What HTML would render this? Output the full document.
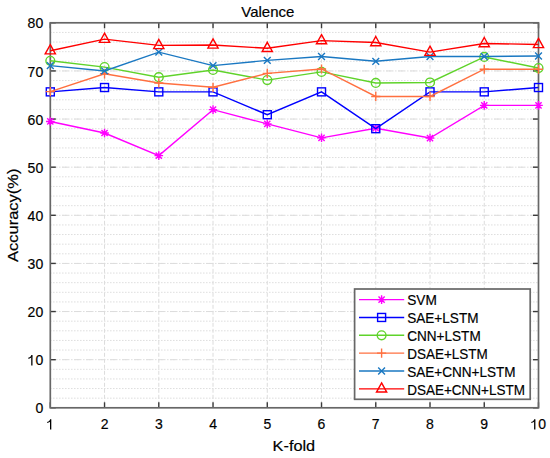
<!DOCTYPE html>
<html><head><meta charset="utf-8"><style>
html,body{margin:0;padding:0;background:#fff;}
svg{display:block;}
text{font-family:"Liberation Sans",sans-serif;fill:#000;stroke:#000;stroke-width:0.18px;}
</style></head><body>
<svg width="550" height="458" viewBox="0 0 550 458">
<rect width="550" height="458" fill="#fff"/>
<line x1="50.3" y1="398.18" x2="538.5" y2="398.18" stroke="#d0d0d0" stroke-width="1" stroke-dasharray="1.1 1.9"/>
<line x1="50.3" y1="388.55" x2="538.5" y2="388.55" stroke="#d0d0d0" stroke-width="1" stroke-dasharray="1.1 1.9"/>
<line x1="50.3" y1="378.93" x2="538.5" y2="378.93" stroke="#d0d0d0" stroke-width="1" stroke-dasharray="1.1 1.9"/>
<line x1="50.3" y1="369.30" x2="538.5" y2="369.30" stroke="#d0d0d0" stroke-width="1" stroke-dasharray="1.1 1.9"/>
<line x1="50.3" y1="359.68" x2="538.5" y2="359.68" stroke="#d0d0d0" stroke-width="1" stroke-dasharray="1.1 1.9"/>
<line x1="50.3" y1="350.05" x2="538.5" y2="350.05" stroke="#d0d0d0" stroke-width="1" stroke-dasharray="1.1 1.9"/>
<line x1="50.3" y1="340.43" x2="538.5" y2="340.43" stroke="#d0d0d0" stroke-width="1" stroke-dasharray="1.1 1.9"/>
<line x1="50.3" y1="330.80" x2="538.5" y2="330.80" stroke="#d0d0d0" stroke-width="1" stroke-dasharray="1.1 1.9"/>
<line x1="50.3" y1="321.18" x2="538.5" y2="321.18" stroke="#d0d0d0" stroke-width="1" stroke-dasharray="1.1 1.9"/>
<line x1="50.3" y1="311.55" x2="538.5" y2="311.55" stroke="#d0d0d0" stroke-width="1" stroke-dasharray="1.1 1.9"/>
<line x1="50.3" y1="301.93" x2="538.5" y2="301.93" stroke="#d0d0d0" stroke-width="1" stroke-dasharray="1.1 1.9"/>
<line x1="50.3" y1="292.30" x2="538.5" y2="292.30" stroke="#d0d0d0" stroke-width="1" stroke-dasharray="1.1 1.9"/>
<line x1="50.3" y1="282.68" x2="538.5" y2="282.68" stroke="#d0d0d0" stroke-width="1" stroke-dasharray="1.1 1.9"/>
<line x1="50.3" y1="273.05" x2="538.5" y2="273.05" stroke="#d0d0d0" stroke-width="1" stroke-dasharray="1.1 1.9"/>
<line x1="50.3" y1="263.43" x2="538.5" y2="263.43" stroke="#d0d0d0" stroke-width="1" stroke-dasharray="1.1 1.9"/>
<line x1="50.3" y1="253.80" x2="538.5" y2="253.80" stroke="#d0d0d0" stroke-width="1" stroke-dasharray="1.1 1.9"/>
<line x1="50.3" y1="244.18" x2="538.5" y2="244.18" stroke="#d0d0d0" stroke-width="1" stroke-dasharray="1.1 1.9"/>
<line x1="50.3" y1="234.55" x2="538.5" y2="234.55" stroke="#d0d0d0" stroke-width="1" stroke-dasharray="1.1 1.9"/>
<line x1="50.3" y1="224.93" x2="538.5" y2="224.93" stroke="#d0d0d0" stroke-width="1" stroke-dasharray="1.1 1.9"/>
<line x1="50.3" y1="215.30" x2="538.5" y2="215.30" stroke="#d0d0d0" stroke-width="1" stroke-dasharray="1.1 1.9"/>
<line x1="50.3" y1="205.68" x2="538.5" y2="205.68" stroke="#d0d0d0" stroke-width="1" stroke-dasharray="1.1 1.9"/>
<line x1="50.3" y1="196.05" x2="538.5" y2="196.05" stroke="#d0d0d0" stroke-width="1" stroke-dasharray="1.1 1.9"/>
<line x1="50.3" y1="186.43" x2="538.5" y2="186.43" stroke="#d0d0d0" stroke-width="1" stroke-dasharray="1.1 1.9"/>
<line x1="50.3" y1="176.80" x2="538.5" y2="176.80" stroke="#d0d0d0" stroke-width="1" stroke-dasharray="1.1 1.9"/>
<line x1="50.3" y1="167.18" x2="538.5" y2="167.18" stroke="#d0d0d0" stroke-width="1" stroke-dasharray="1.1 1.9"/>
<line x1="50.3" y1="157.55" x2="538.5" y2="157.55" stroke="#d0d0d0" stroke-width="1" stroke-dasharray="1.1 1.9"/>
<line x1="50.3" y1="147.93" x2="538.5" y2="147.93" stroke="#d0d0d0" stroke-width="1" stroke-dasharray="1.1 1.9"/>
<line x1="50.3" y1="138.30" x2="538.5" y2="138.30" stroke="#d0d0d0" stroke-width="1" stroke-dasharray="1.1 1.9"/>
<line x1="50.3" y1="128.68" x2="538.5" y2="128.68" stroke="#d0d0d0" stroke-width="1" stroke-dasharray="1.1 1.9"/>
<line x1="50.3" y1="119.05" x2="538.5" y2="119.05" stroke="#d0d0d0" stroke-width="1" stroke-dasharray="1.1 1.9"/>
<line x1="50.3" y1="109.43" x2="538.5" y2="109.43" stroke="#d0d0d0" stroke-width="1" stroke-dasharray="1.1 1.9"/>
<line x1="50.3" y1="99.80" x2="538.5" y2="99.80" stroke="#d0d0d0" stroke-width="1" stroke-dasharray="1.1 1.9"/>
<line x1="50.3" y1="90.18" x2="538.5" y2="90.18" stroke="#d0d0d0" stroke-width="1" stroke-dasharray="1.1 1.9"/>
<line x1="50.3" y1="80.55" x2="538.5" y2="80.55" stroke="#d0d0d0" stroke-width="1" stroke-dasharray="1.1 1.9"/>
<line x1="50.3" y1="70.93" x2="538.5" y2="70.93" stroke="#d0d0d0" stroke-width="1" stroke-dasharray="1.1 1.9"/>
<line x1="50.3" y1="61.30" x2="538.5" y2="61.30" stroke="#d0d0d0" stroke-width="1" stroke-dasharray="1.1 1.9"/>
<line x1="50.3" y1="51.68" x2="538.5" y2="51.68" stroke="#d0d0d0" stroke-width="1" stroke-dasharray="1.1 1.9"/>
<line x1="50.3" y1="42.05" x2="538.5" y2="42.05" stroke="#d0d0d0" stroke-width="1" stroke-dasharray="1.1 1.9"/>
<line x1="50.3" y1="32.43" x2="538.5" y2="32.43" stroke="#d0d0d0" stroke-width="1" stroke-dasharray="1.1 1.9"/>
<line x1="50.3" y1="359.68" x2="538.5" y2="359.68" stroke="#dcdcdc" stroke-width="1" stroke-dasharray="6 6"/>
<line x1="50.3" y1="311.55" x2="538.5" y2="311.55" stroke="#dcdcdc" stroke-width="1" stroke-dasharray="6 6"/>
<line x1="50.3" y1="263.43" x2="538.5" y2="263.43" stroke="#dcdcdc" stroke-width="1" stroke-dasharray="6 6"/>
<line x1="50.3" y1="215.30" x2="538.5" y2="215.30" stroke="#dcdcdc" stroke-width="1" stroke-dasharray="6 6"/>
<line x1="50.3" y1="167.18" x2="538.5" y2="167.18" stroke="#dcdcdc" stroke-width="1" stroke-dasharray="6 6"/>
<line x1="50.3" y1="119.05" x2="538.5" y2="119.05" stroke="#dcdcdc" stroke-width="1" stroke-dasharray="6 6"/>
<line x1="50.3" y1="70.93" x2="538.5" y2="70.93" stroke="#dcdcdc" stroke-width="1" stroke-dasharray="6 6"/>
<line x1="104.54" y1="22.8" x2="104.54" y2="407.8" stroke="#dcdcdc" stroke-width="1" stroke-dasharray="4 2"/>
<line x1="158.79" y1="22.8" x2="158.79" y2="407.8" stroke="#dcdcdc" stroke-width="1" stroke-dasharray="4 2"/>
<line x1="213.03" y1="22.8" x2="213.03" y2="407.8" stroke="#dcdcdc" stroke-width="1" stroke-dasharray="4 2"/>
<line x1="267.28" y1="22.8" x2="267.28" y2="407.8" stroke="#dcdcdc" stroke-width="1" stroke-dasharray="4 2"/>
<line x1="321.52" y1="22.8" x2="321.52" y2="407.8" stroke="#dcdcdc" stroke-width="1" stroke-dasharray="4 2"/>
<line x1="375.77" y1="22.8" x2="375.77" y2="407.8" stroke="#dcdcdc" stroke-width="1" stroke-dasharray="4 2"/>
<line x1="430.01" y1="22.8" x2="430.01" y2="407.8" stroke="#dcdcdc" stroke-width="1" stroke-dasharray="4 2"/>
<line x1="484.26" y1="22.8" x2="484.26" y2="407.8" stroke="#dcdcdc" stroke-width="1" stroke-dasharray="4 2"/>
<line x1="50.3" y1="407.80" x2="55.8" y2="407.80" stroke="#3a3a3a" stroke-width="1.4"/>
<line x1="538.5" y1="407.80" x2="533.0" y2="407.80" stroke="#3a3a3a" stroke-width="1.4"/>
<line x1="50.3" y1="359.68" x2="55.8" y2="359.68" stroke="#3a3a3a" stroke-width="1.4"/>
<line x1="538.5" y1="359.68" x2="533.0" y2="359.68" stroke="#3a3a3a" stroke-width="1.4"/>
<line x1="50.3" y1="311.55" x2="55.8" y2="311.55" stroke="#3a3a3a" stroke-width="1.4"/>
<line x1="538.5" y1="311.55" x2="533.0" y2="311.55" stroke="#3a3a3a" stroke-width="1.4"/>
<line x1="50.3" y1="263.43" x2="55.8" y2="263.43" stroke="#3a3a3a" stroke-width="1.4"/>
<line x1="538.5" y1="263.43" x2="533.0" y2="263.43" stroke="#3a3a3a" stroke-width="1.4"/>
<line x1="50.3" y1="215.30" x2="55.8" y2="215.30" stroke="#3a3a3a" stroke-width="1.4"/>
<line x1="538.5" y1="215.30" x2="533.0" y2="215.30" stroke="#3a3a3a" stroke-width="1.4"/>
<line x1="50.3" y1="167.18" x2="55.8" y2="167.18" stroke="#3a3a3a" stroke-width="1.4"/>
<line x1="538.5" y1="167.18" x2="533.0" y2="167.18" stroke="#3a3a3a" stroke-width="1.4"/>
<line x1="50.3" y1="119.05" x2="55.8" y2="119.05" stroke="#3a3a3a" stroke-width="1.4"/>
<line x1="538.5" y1="119.05" x2="533.0" y2="119.05" stroke="#3a3a3a" stroke-width="1.4"/>
<line x1="50.3" y1="70.93" x2="55.8" y2="70.93" stroke="#3a3a3a" stroke-width="1.4"/>
<line x1="538.5" y1="70.93" x2="533.0" y2="70.93" stroke="#3a3a3a" stroke-width="1.4"/>
<line x1="50.3" y1="22.80" x2="55.8" y2="22.80" stroke="#3a3a3a" stroke-width="1.4"/>
<line x1="538.5" y1="22.80" x2="533.0" y2="22.80" stroke="#3a3a3a" stroke-width="1.4"/>
<line x1="50.30" y1="407.8" x2="50.30" y2="402.3" stroke="#3a3a3a" stroke-width="1.4"/>
<line x1="50.30" y1="22.8" x2="50.30" y2="28.3" stroke="#3a3a3a" stroke-width="1.4"/>
<line x1="104.54" y1="407.8" x2="104.54" y2="402.3" stroke="#3a3a3a" stroke-width="1.4"/>
<line x1="104.54" y1="22.8" x2="104.54" y2="28.3" stroke="#3a3a3a" stroke-width="1.4"/>
<line x1="158.79" y1="407.8" x2="158.79" y2="402.3" stroke="#3a3a3a" stroke-width="1.4"/>
<line x1="158.79" y1="22.8" x2="158.79" y2="28.3" stroke="#3a3a3a" stroke-width="1.4"/>
<line x1="213.03" y1="407.8" x2="213.03" y2="402.3" stroke="#3a3a3a" stroke-width="1.4"/>
<line x1="213.03" y1="22.8" x2="213.03" y2="28.3" stroke="#3a3a3a" stroke-width="1.4"/>
<line x1="267.28" y1="407.8" x2="267.28" y2="402.3" stroke="#3a3a3a" stroke-width="1.4"/>
<line x1="267.28" y1="22.8" x2="267.28" y2="28.3" stroke="#3a3a3a" stroke-width="1.4"/>
<line x1="321.52" y1="407.8" x2="321.52" y2="402.3" stroke="#3a3a3a" stroke-width="1.4"/>
<line x1="321.52" y1="22.8" x2="321.52" y2="28.3" stroke="#3a3a3a" stroke-width="1.4"/>
<line x1="375.77" y1="407.8" x2="375.77" y2="402.3" stroke="#3a3a3a" stroke-width="1.4"/>
<line x1="375.77" y1="22.8" x2="375.77" y2="28.3" stroke="#3a3a3a" stroke-width="1.4"/>
<line x1="430.01" y1="407.8" x2="430.01" y2="402.3" stroke="#3a3a3a" stroke-width="1.4"/>
<line x1="430.01" y1="22.8" x2="430.01" y2="28.3" stroke="#3a3a3a" stroke-width="1.4"/>
<line x1="484.26" y1="407.8" x2="484.26" y2="402.3" stroke="#3a3a3a" stroke-width="1.4"/>
<line x1="484.26" y1="22.8" x2="484.26" y2="28.3" stroke="#3a3a3a" stroke-width="1.4"/>
<line x1="538.50" y1="407.8" x2="538.50" y2="402.3" stroke="#3a3a3a" stroke-width="1.4"/>
<line x1="538.50" y1="22.8" x2="538.50" y2="28.3" stroke="#3a3a3a" stroke-width="1.4"/>
<rect x="50.3" y="22.8" width="488.20" height="385.00" fill="none" stroke="#676767" stroke-width="1.7"/>
<polyline points="50.30,121.46 104.54,133.01 158.79,155.62 213.03,109.67 267.28,123.86 321.52,137.82 375.77,128.19 430.01,138.06 484.26,105.33 538.50,105.33" stroke="#ff00ff" stroke-width="1.4" fill="none"/>
<path d="M46.00,121.46H54.60M50.30,117.16V125.76M47.20,118.36L53.40,124.55M47.20,124.55L53.40,118.36" stroke="#ff00ff" stroke-width="1.4" fill="none"/>
<path d="M100.24,133.01H108.84M104.54,128.71V137.31M101.45,129.91L107.64,136.10M101.45,136.10L107.64,129.91" stroke="#ff00ff" stroke-width="1.4" fill="none"/>
<path d="M154.49,155.62H163.09M158.79,151.32V159.93M155.69,152.53L161.88,158.72M155.69,158.72L161.88,152.53" stroke="#ff00ff" stroke-width="1.4" fill="none"/>
<path d="M208.73,109.67H217.33M213.03,105.37V113.97M209.94,106.57L216.13,112.76M209.94,112.76L216.13,106.57" stroke="#ff00ff" stroke-width="1.4" fill="none"/>
<path d="M262.98,123.86H271.58M267.28,119.56V128.16M264.18,120.77L270.37,126.96M264.18,126.96L270.37,120.77" stroke="#ff00ff" stroke-width="1.4" fill="none"/>
<path d="M317.22,137.82H325.82M321.52,133.52V142.12M318.43,134.72L324.62,140.91M318.43,140.91L324.62,134.72" stroke="#ff00ff" stroke-width="1.4" fill="none"/>
<path d="M371.47,128.19H380.07M375.77,123.89V132.49M372.67,125.10L378.86,131.29M372.67,131.29L378.86,125.10" stroke="#ff00ff" stroke-width="1.4" fill="none"/>
<path d="M425.71,138.06H434.31M430.01,133.76V142.36M426.92,134.96L433.11,141.16M426.92,141.16L433.11,134.96" stroke="#ff00ff" stroke-width="1.4" fill="none"/>
<path d="M479.96,105.33H488.56M484.26,101.03V109.63M481.16,102.24L487.35,108.43M481.16,108.43L487.35,102.24" stroke="#ff00ff" stroke-width="1.4" fill="none"/>
<path d="M534.20,105.33H542.80M538.50,101.03V109.63M535.40,102.24L541.60,108.43M535.40,108.43L541.60,102.24" stroke="#ff00ff" stroke-width="1.4" fill="none"/>
<polyline points="50.30,91.86 104.54,87.53 158.79,91.86 213.03,91.86 267.28,114.72 321.52,91.86 375.77,128.68 430.01,91.86 484.26,91.86 538.50,87.53" stroke="#0000ff" stroke-width="1.4" fill="none"/>
<rect x="46.30" y="87.86" width="8.0" height="8.0" stroke="#0000ff" stroke-width="1.4" fill="none"/>
<rect x="100.54" y="83.53" width="8.0" height="8.0" stroke="#0000ff" stroke-width="1.4" fill="none"/>
<rect x="154.79" y="87.86" width="8.0" height="8.0" stroke="#0000ff" stroke-width="1.4" fill="none"/>
<rect x="209.03" y="87.86" width="8.0" height="8.0" stroke="#0000ff" stroke-width="1.4" fill="none"/>
<rect x="263.28" y="110.72" width="8.0" height="8.0" stroke="#0000ff" stroke-width="1.4" fill="none"/>
<rect x="317.52" y="87.86" width="8.0" height="8.0" stroke="#0000ff" stroke-width="1.4" fill="none"/>
<rect x="371.77" y="124.68" width="8.0" height="8.0" stroke="#0000ff" stroke-width="1.4" fill="none"/>
<rect x="426.01" y="87.86" width="8.0" height="8.0" stroke="#0000ff" stroke-width="1.4" fill="none"/>
<rect x="480.26" y="87.86" width="8.0" height="8.0" stroke="#0000ff" stroke-width="1.4" fill="none"/>
<rect x="534.50" y="83.53" width="8.0" height="8.0" stroke="#0000ff" stroke-width="1.4" fill="none"/>
<polyline points="50.30,60.82 104.54,67.07 158.79,77.18 213.03,69.96 267.28,80.07 321.52,71.89 375.77,82.96 430.01,82.48 484.26,56.97 538.50,68.04" stroke="#5fd32a" stroke-width="1.4" fill="none"/>
<circle cx="50.30" cy="60.82" r="4.4" stroke="#5fd32a" stroke-width="1.4" fill="none"/>
<circle cx="104.54" cy="67.07" r="4.4" stroke="#5fd32a" stroke-width="1.4" fill="none"/>
<circle cx="158.79" cy="77.18" r="4.4" stroke="#5fd32a" stroke-width="1.4" fill="none"/>
<circle cx="213.03" cy="69.96" r="4.4" stroke="#5fd32a" stroke-width="1.4" fill="none"/>
<circle cx="267.28" cy="80.07" r="4.4" stroke="#5fd32a" stroke-width="1.4" fill="none"/>
<circle cx="321.52" cy="71.89" r="4.4" stroke="#5fd32a" stroke-width="1.4" fill="none"/>
<circle cx="375.77" cy="82.96" r="4.4" stroke="#5fd32a" stroke-width="1.4" fill="none"/>
<circle cx="430.01" cy="82.48" r="4.4" stroke="#5fd32a" stroke-width="1.4" fill="none"/>
<circle cx="484.26" cy="56.97" r="4.4" stroke="#5fd32a" stroke-width="1.4" fill="none"/>
<circle cx="538.50" cy="68.04" r="4.4" stroke="#5fd32a" stroke-width="1.4" fill="none"/>
<polyline points="50.30,91.62 104.54,73.81 158.79,82.96 213.03,87.29 267.28,73.33 321.52,69.00 375.77,96.43 430.01,96.43 484.26,69.24 538.50,69.24" stroke="#ff7040" stroke-width="1.4" fill="none"/>
<path d="M45.70,91.62H54.90M50.30,87.02V96.22" stroke="#ff7040" stroke-width="1.4" fill="none"/>
<path d="M99.94,73.81H109.14M104.54,69.21V78.41" stroke="#ff7040" stroke-width="1.4" fill="none"/>
<path d="M154.19,82.96H163.39M158.79,78.36V87.56" stroke="#ff7040" stroke-width="1.4" fill="none"/>
<path d="M208.43,87.29H217.63M213.03,82.69V91.89" stroke="#ff7040" stroke-width="1.4" fill="none"/>
<path d="M262.68,73.33H271.88M267.28,68.73V77.93" stroke="#ff7040" stroke-width="1.4" fill="none"/>
<path d="M316.92,69.00H326.12M321.52,64.40V73.60" stroke="#ff7040" stroke-width="1.4" fill="none"/>
<path d="M371.17,96.43H380.37M375.77,91.83V101.03" stroke="#ff7040" stroke-width="1.4" fill="none"/>
<path d="M425.41,96.43H434.61M430.01,91.83V101.03" stroke="#ff7040" stroke-width="1.4" fill="none"/>
<path d="M479.66,69.24H488.86M484.26,64.64V73.84" stroke="#ff7040" stroke-width="1.4" fill="none"/>
<path d="M533.90,69.24H543.10M538.50,64.64V73.84" stroke="#ff7040" stroke-width="1.4" fill="none"/>
<polyline points="50.30,65.63 104.54,70.93 158.79,52.16 213.03,65.63 267.28,60.34 321.52,56.49 375.77,61.30 430.01,56.49 484.26,56.49 538.50,56.01" stroke="#1a78c2" stroke-width="1.4" fill="none"/>
<path d="M46.90,62.23L53.70,69.03M46.90,69.03L53.70,62.23" stroke="#1a78c2" stroke-width="1.4" fill="none"/>
<path d="M101.14,67.53L107.94,74.33M101.14,74.33L107.94,67.53" stroke="#1a78c2" stroke-width="1.4" fill="none"/>
<path d="M155.39,48.76L162.19,55.56M155.39,55.56L162.19,48.76" stroke="#1a78c2" stroke-width="1.4" fill="none"/>
<path d="M209.63,62.23L216.43,69.03M209.63,69.03L216.43,62.23" stroke="#1a78c2" stroke-width="1.4" fill="none"/>
<path d="M263.88,56.94L270.68,63.74M263.88,63.74L270.68,56.94" stroke="#1a78c2" stroke-width="1.4" fill="none"/>
<path d="M318.12,53.09L324.92,59.89M318.12,59.89L324.92,53.09" stroke="#1a78c2" stroke-width="1.4" fill="none"/>
<path d="M372.37,57.90L379.17,64.70M372.37,64.70L379.17,57.90" stroke="#1a78c2" stroke-width="1.4" fill="none"/>
<path d="M426.61,53.09L433.41,59.89M426.61,59.89L433.41,53.09" stroke="#1a78c2" stroke-width="1.4" fill="none"/>
<path d="M480.86,53.09L487.66,59.89M480.86,59.89L487.66,53.09" stroke="#1a78c2" stroke-width="1.4" fill="none"/>
<path d="M535.10,52.61L541.90,59.41M535.10,59.41L541.90,52.61" stroke="#1a78c2" stroke-width="1.4" fill="none"/>
<polyline points="50.30,50.71 104.54,39.16 158.79,45.42 213.03,44.94 267.28,48.31 321.52,40.61 375.77,42.53 430.01,52.16 484.26,43.49 538.50,44.46" stroke="#ff0000" stroke-width="1.4" fill="none"/>
<path d="M50.30,44.71L55.40,53.91L45.20,53.91Z" stroke="#ff0000" stroke-width="1.4" fill="none" stroke-linejoin="miter"/>
<path d="M104.54,33.16L109.64,42.36L99.44,42.36Z" stroke="#ff0000" stroke-width="1.4" fill="none" stroke-linejoin="miter"/>
<path d="M158.79,39.42L163.89,48.62L153.69,48.62Z" stroke="#ff0000" stroke-width="1.4" fill="none" stroke-linejoin="miter"/>
<path d="M213.03,38.94L218.13,48.14L207.93,48.14Z" stroke="#ff0000" stroke-width="1.4" fill="none" stroke-linejoin="miter"/>
<path d="M267.28,42.31L272.38,51.51L262.18,51.51Z" stroke="#ff0000" stroke-width="1.4" fill="none" stroke-linejoin="miter"/>
<path d="M321.52,34.61L326.62,43.81L316.42,43.81Z" stroke="#ff0000" stroke-width="1.4" fill="none" stroke-linejoin="miter"/>
<path d="M375.77,36.53L380.87,45.73L370.67,45.73Z" stroke="#ff0000" stroke-width="1.4" fill="none" stroke-linejoin="miter"/>
<path d="M430.01,46.16L435.11,55.36L424.91,55.36Z" stroke="#ff0000" stroke-width="1.4" fill="none" stroke-linejoin="miter"/>
<path d="M484.26,37.49L489.36,46.69L479.16,46.69Z" stroke="#ff0000" stroke-width="1.4" fill="none" stroke-linejoin="miter"/>
<path d="M538.50,38.46L543.60,47.66L533.40,47.66Z" stroke="#ff0000" stroke-width="1.4" fill="none" stroke-linejoin="miter"/>
<rect x="354.6" y="289.0" width="175.60" height="110.30" fill="#fff" stroke="#676767" stroke-width="1.7"/>
<line x1="359" y1="299.60" x2="404.2" y2="299.60" stroke="#ff00ff" stroke-width="1.4"/>
<path d="M377.30,299.60H385.90M381.60,295.30V303.90M378.50,296.50L384.70,302.70M378.50,302.70L384.70,296.50" stroke="#ff00ff" stroke-width="1.4" fill="none"/>
<text x="407.20" y="305.30" font-size="13.8" text-anchor="start" textLength="29.60" lengthAdjust="spacingAndGlyphs">SVM</text>
<line x1="359" y1="317.45" x2="404.2" y2="317.45" stroke="#0000ff" stroke-width="1.4"/>
<rect x="377.60" y="313.45" width="8.0" height="8.0" stroke="#0000ff" stroke-width="1.4" fill="none"/>
<text x="407.20" y="323.15" font-size="13.8" text-anchor="start" textLength="71.30" lengthAdjust="spacingAndGlyphs">SAE+LSTM</text>
<line x1="359" y1="335.30" x2="404.2" y2="335.30" stroke="#5fd32a" stroke-width="1.4"/>
<circle cx="381.60" cy="335.30" r="4.4" stroke="#5fd32a" stroke-width="1.4" fill="none"/>
<text x="407.20" y="341.00" font-size="13.8" text-anchor="start" textLength="73.50" lengthAdjust="spacingAndGlyphs">CNN+LSTM</text>
<line x1="359" y1="353.15" x2="404.2" y2="353.15" stroke="#ff7040" stroke-width="1.4"/>
<path d="M377.00,353.15H386.20M381.60,348.55V357.75" stroke="#ff7040" stroke-width="1.4" fill="none"/>
<text x="407.20" y="358.85" font-size="13.8" text-anchor="start" textLength="80.70" lengthAdjust="spacingAndGlyphs">DSAE+LSTM</text>
<line x1="359" y1="371.00" x2="404.2" y2="371.00" stroke="#1a78c2" stroke-width="1.4"/>
<path d="M378.20,367.60L385.00,374.40M378.20,374.40L385.00,367.60" stroke="#1a78c2" stroke-width="1.4" fill="none"/>
<text x="407.20" y="376.70" font-size="13.8" text-anchor="start" textLength="108.40" lengthAdjust="spacingAndGlyphs">SAE+CNN+LSTM</text>
<line x1="359" y1="388.85" x2="404.2" y2="388.85" stroke="#ff0000" stroke-width="1.4"/>
<path d="M381.60,382.85L386.70,392.05L376.50,392.05Z" stroke="#ff0000" stroke-width="1.4" fill="none" stroke-linejoin="miter"/>
<text x="407.20" y="394.55" font-size="13.8" text-anchor="start" textLength="117.80" lengthAdjust="spacingAndGlyphs">DSAE+CNN+LSTM</text>
<text x="43.20" y="413.40" font-size="14.6" text-anchor="end" textLength="7.80" lengthAdjust="spacingAndGlyphs">0</text>
<path d="M31.85,365.38V355.08" stroke="#000" stroke-width="1.3" fill="none"/><path d="M31.80,355.78C31.20,357.28 30.00,357.98 28.40,358.38" stroke="#000" stroke-width="1.25" fill="none"/>
<text x="43.20" y="365.28" font-size="14.6" text-anchor="end" textLength="7.80" lengthAdjust="spacingAndGlyphs">0</text>
<text x="43.20" y="317.15" font-size="14.6" text-anchor="end" textLength="15.60" lengthAdjust="spacingAndGlyphs">20</text>
<text x="43.20" y="269.03" font-size="14.6" text-anchor="end" textLength="15.60" lengthAdjust="spacingAndGlyphs">30</text>
<text x="43.20" y="220.90" font-size="14.6" text-anchor="end" textLength="15.60" lengthAdjust="spacingAndGlyphs">40</text>
<text x="43.20" y="172.78" font-size="14.6" text-anchor="end" textLength="15.60" lengthAdjust="spacingAndGlyphs">50</text>
<text x="43.20" y="124.65" font-size="14.6" text-anchor="end" textLength="15.60" lengthAdjust="spacingAndGlyphs">60</text>
<text x="43.20" y="76.53" font-size="14.6" text-anchor="end" textLength="15.60" lengthAdjust="spacingAndGlyphs">70</text>
<text x="43.20" y="28.40" font-size="14.6" text-anchor="end" textLength="15.60" lengthAdjust="spacingAndGlyphs">80</text>
<path d="M50.65,429.50V419.20" stroke="#000" stroke-width="1.3" fill="none"/><path d="M50.60,419.90C50.00,421.40 48.80,422.10 47.20,422.50" stroke="#000" stroke-width="1.25" fill="none"/>
<text x="104.54" y="429.40" font-size="14.6" text-anchor="middle" textLength="7.80" lengthAdjust="spacingAndGlyphs">2</text>
<text x="158.79" y="429.40" font-size="14.6" text-anchor="middle" textLength="7.80" lengthAdjust="spacingAndGlyphs">3</text>
<text x="213.03" y="429.40" font-size="14.6" text-anchor="middle" textLength="7.80" lengthAdjust="spacingAndGlyphs">4</text>
<text x="267.28" y="429.40" font-size="14.6" text-anchor="middle" textLength="7.80" lengthAdjust="spacingAndGlyphs">5</text>
<text x="321.52" y="429.40" font-size="14.6" text-anchor="middle" textLength="7.80" lengthAdjust="spacingAndGlyphs">6</text>
<text x="375.77" y="429.40" font-size="14.6" text-anchor="middle" textLength="7.80" lengthAdjust="spacingAndGlyphs">7</text>
<text x="430.01" y="429.40" font-size="14.6" text-anchor="middle" textLength="7.80" lengthAdjust="spacingAndGlyphs">8</text>
<text x="484.26" y="429.40" font-size="14.6" text-anchor="middle" textLength="7.80" lengthAdjust="spacingAndGlyphs">9</text>
<path d="M534.75,429.50V419.20" stroke="#000" stroke-width="1.3" fill="none"/><path d="M534.70,419.90C534.10,421.40 532.90,422.10 531.30,422.50" stroke="#000" stroke-width="1.25" fill="none"/>
<text x="538.30" y="429.40" font-size="14.6" text-anchor="start" textLength="7.80" lengthAdjust="spacingAndGlyphs">0</text>
<text x="241.30" y="16.50" font-size="14.6" text-anchor="start" textLength="53.00" lengthAdjust="spacingAndGlyphs">Valence</text>
<text x="272.60" y="451.30" font-size="15.2" text-anchor="start" textLength="42.60" lengthAdjust="spacingAndGlyphs">K-fold</text>
<g transform="translate(17.8,262.0) rotate(-90)"><text x="0.00" y="0.00" font-size="14.6" text-anchor="start" textLength="93.50" lengthAdjust="spacingAndGlyphs">Accuracy(%)</text></g>
</svg>
</body></html>
